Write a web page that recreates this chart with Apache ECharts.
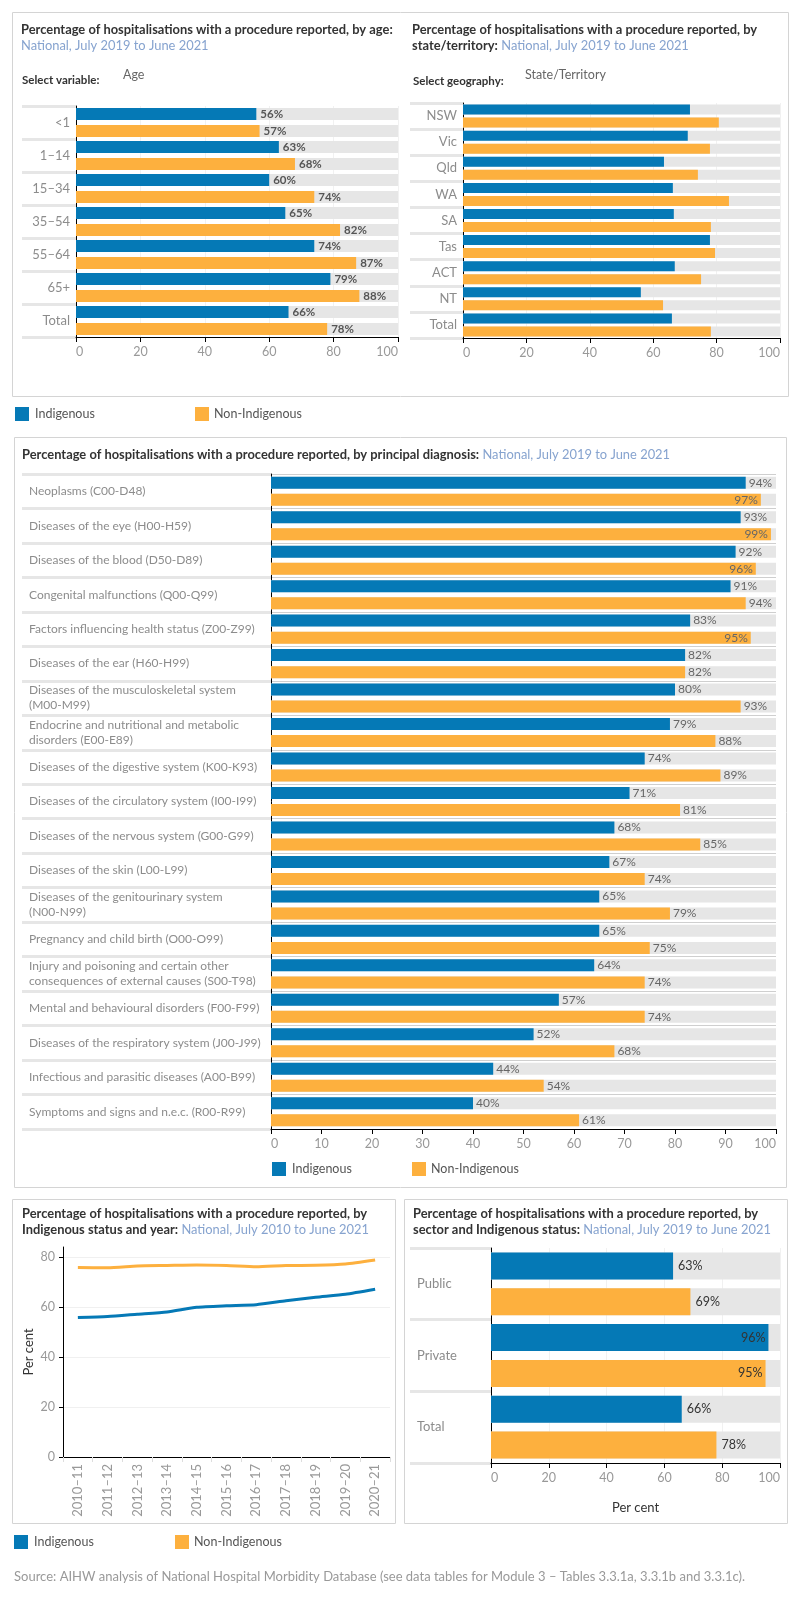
<!DOCTYPE html>
<html>
<head>
<meta charset="utf-8">
<script src="https://cdn.jsdelivr.net/npm/echarts@6/dist/echarts.min.js"></script>
<style>
  html, body { margin: 0; background: #fff; }
  #chart { width: 800px; height: 1600px; }
</style>
</head>
<body>
<div id="chart"></div>
<script>
// data
const ageCats = ['<1', '1–14', '15–34', '35–54', '55–64', '65+', 'Total'];
const ageInd = [56, 63, 60, 65, 74, 79, 66];
const ageNon = [57, 68, 74, 82, 87, 88, 78];

const stateCats = ['NSW', 'Vic', 'Qld', 'WA', 'SA', 'Tas', 'ACT', 'NT', 'Total'];
const stateInd = [71.6, 70.9, 63.4, 66.2, 66.5, 77.9, 66.8, 56.1, 65.9];
const stateNon = [80.7, 77.9, 74.1, 83.9, 78.2, 79.5, 75.1, 63.1, 78.2];

const diagCats = [
  'Neoplasms (C00-D48)',
  'Diseases of the eye (H00-H59)',
  'Diseases of the blood (D50-D89)',
  'Congenital malfunctions (Q00-Q99)',
  'Factors influencing health status (Z00-Z99)',
  'Diseases of the ear (H60-H99)',
  'Diseases of the musculoskeletal system\n(M00-M99)',
  'Endocrine and nutritional and metabolic\ndisorders (E00-E89)',
  'Diseases of the digestive system (K00-K93)',
  'Diseases of the circulatory system (I00-I99)',
  'Diseases of the nervous system (G00-G99)',
  'Diseases of the skin (L00-L99)',
  'Diseases of the genitourinary system\n(N00-N99)',
  'Pregnancy and child birth (O00-O99)',
  'Injury and poisoning and certain other\nconsequences of external causes (S00-T98)',
  'Mental and behavioural disorders (F00-F99)',
  'Diseases of the respiratory system (J00-J99)',
  'Infectious and parasitic diseases (A00-B99)',
  'Symptoms and signs and n.e.c. (R00-R99)'
];
const diagInd = [94, 93, 92, 91, 83, 82, 80, 79, 74, 71, 68, 67, 65, 65, 64, 57, 52, 44, 40];
const diagNon = [97, 99, 96, 94, 95, 82, 93, 88, 89, 81, 85, 74, 79, 75, 74, 74, 68, 54, 61];

const years = ['2010–11', '2011–12', '2012–13', '2013–14', '2014–15', '2015–16',
  '2016–17', '2017–18', '2018–19', '2019–20', '2020–21'];
const trendInd = [55.8, 56.2, 57.1, 58.0, 59.9, 60.5, 60.9, 62.5, 63.9, 65.1, 67.1];
const trendNon = [75.8, 75.7, 76.4, 76.6, 76.8, 76.6, 76.1, 76.6, 76.7, 77.2, 78.8];

const sectorCats = ['Public', 'Private', 'Total'];
const sectorInd = [63, 96, 66];
const sectorNon = [69, 95, 78];

const BLUE = '#0579b6';
const ORANGE = '#fdb03e';
const BG = '#e6e6e6';
const FONT = 'Lato, sans-serif';

const chart = echarts.init(document.getElementById('chart'));

// grids: plot + label-separator area
const grids = [
  { left: 76, top: 106, width: 322, height: 231 },   // 0 age
  { left: 22, top: 106, width: 54, height: 231 },    // 1 age sep
  { left: 463, top: 103, width: 317, height: 235 },  // 2 state
  { left: 410, top: 103, width: 53, height: 235 },   // 3 state sep
  { left: 271, top: 474, width: 505, height: 655 },  // 4 diag
  { left: 22, top: 474, width: 249, height: 655 },   // 5 diag sep
  { left: 63, top: 1247, width: 327, height: 210 },  // 6 trend
  { left: 491, top: 1248, width: 289, height: 215 }, // 7 sector
  { left: 410, top: 1248, width: 81, height: 215 }   // 8 sector sep
];

const valueAxis = (gridIndex, interval, extra) => Object.assign({
  type: 'value', gridIndex, min: 0, max: 100, interval,
  axisLine: { show: true, lineStyle: { color: '#000', width: 1 } },
  axisTick: { show: true, length: 5, lineStyle: { color: '#000' } },
  axisLabel: { color: '#999', fontSize: 12.5, margin: 8, fontFamily: FONT,
    alignMinLabel: 'left', alignMaxLabel: 'right' },
  splitLine: { show: true, lineStyle: { color: '#f1f1f1' } }
}, extra || {});

const hiddenX = (gridIndex) => ({ type: 'value', gridIndex, min: 0, max: 1, show: false });

const catAxis = (gridIndex, data, label, splitLine) => ({
  type: 'category', gridIndex, data, inverse: true,
  axisLine: { show: true, lineStyle: { color: '#000', width: 1 } },
  axisTick: { show: false },
  axisLabel: label,
  splitLine: splitLine || { show: false }
});

const sepAxis = (gridIndex, data) => ({
  type: 'category', gridIndex, data, inverse: true,
  axisLine: { show: false }, axisTick: { show: false }, axisLabel: { show: false },
  splitLine: { show: true, lineStyle: { color: BG, width: 3 } }
});

const xAxis = [
  valueAxis(0, 20),
  hiddenX(1),
  valueAxis(2, 20),
  hiddenX(3),
  valueAxis(4, 10, { splitLine: { show: false } }),
  hiddenX(5),
  {
    type: 'category', gridIndex: 6, data: years, boundaryGap: true,
    axisLine: { lineStyle: { color: '#000' } },
    axisTick: { show: true, length: 5, lineStyle: { color: '#ddd' } },
    axisLabel: { rotate: 90, color: '#999', fontSize: 13, margin: 7, fontFamily: FONT }
  },
  valueAxis(7, 20, {
    name: 'Per cent', nameLocation: 'middle', nameGap: 38,
    nameTextStyle: { color: '#333', fontSize: 13, fontFamily: FONT }
  }),
  hiddenX(8)
];

const rightLabel = { color: '#8c8c8c', fontSize: 13, margin: 6, fontFamily: FONT };
const yAxis = [
  catAxis(0, ageCats, rightLabel),
  sepAxis(1, ageCats),
  catAxis(2, stateCats, rightLabel),
  sepAxis(3, stateCats),
  catAxis(4, diagCats,
    { color: '#8c8c8c', fontSize: 12, align: 'left', margin: 242, lineHeight: 15, fontFamily: FONT },
    { show: true, lineStyle: { color: '#cfcfcf', width: 1 } }),
  sepAxis(5, diagCats),
  {
    type: 'value', gridIndex: 6, min: 0, max: 84, interval: 20,
    name: 'Per cent', nameLocation: 'middle', nameGap: 28,
    nameTextStyle: { color: '#333', fontSize: 13, fontFamily: FONT },
    axisLine: { show: true, lineStyle: { color: '#000' } },
    axisTick: { show: true, length: 4, lineStyle: { color: '#000' } },
    axisLabel: { color: '#999', fontSize: 12.5, showMaxLabel: false, fontFamily: FONT },
    splitLine: { show: true, showMaxLine: false, lineStyle: { color: '#f0f0f0' } }
  },
  catAxis(7, sectorCats, { color: '#8c8c8c', fontSize: 13, align: 'left', margin: 74, fontFamily: FONT }),
  sepAxis(8, sectorCats)
];

const pct = (p) => Math.round(p.value) + '%';

function barPair(axisIndex, ind, non, barWidth, barGap, label) {
  const mk = (name, data, color) => ({
    name, type: 'bar', xAxisIndex: axisIndex, yAxisIndex: axisIndex,
    data, barWidth, barGap, color,
    showBackground: true, backgroundStyle: { color: BG },
    itemStyle: { color },
    label: label, emphasis: { disabled: true }
  });
  return [mk('Indigenous', ind, BLUE), mk('Non-Indigenous', non, ORANGE)];
}

// label inside the bar end when the bar nearly fills the axis
const withInside = (arr) => arr.map(v => v >= 95
  ? { value: v, label: { position: 'insideRight', distance: 3 } }
  : v);

const series = [
  ...barPair(0, ageInd, ageNon, 12, '42%',
    { show: true, position: 'right', distance: 4, formatter: pct, color: '#555', fontSize: 11.5, fontWeight: 'bold', fontFamily: FONT }),
  ...barPair(2, stateInd, stateNon, 10, '30%', { show: false }),
  ...barPair(4, withInside(diagInd), withInside(diagNon), 12, '42%',
    { show: true, position: 'right', distance: 3, formatter: pct, color: '#666', fontSize: 12, fontFamily: FONT }),
  {
    name: 'Indigenous', type: 'line', xAxisIndex: 6, yAxisIndex: 6, data: trendInd,
    smooth: 0.2, showSymbol: false, lineStyle: { color: BLUE, width: 3 }, itemStyle: { color: BLUE }
  },
  {
    name: 'Non-Indigenous', type: 'line', xAxisIndex: 6, yAxisIndex: 6, data: trendNon,
    smooth: 0.2, showSymbol: false, lineStyle: { color: ORANGE, width: 3 }, itemStyle: { color: ORANGE }
  },
  ...barPair(7, withInside(sectorInd), withInside(sectorNon), 27, '33%',
    { show: true, position: 'right', distance: 5, formatter: pct, color: '#333', fontSize: 12.5, fontFamily: FONT })
];

// layout pieces outside the plots
const box = (x, y, w, h) => ({
  type: 'rect', silent: true,
  shape: { x: x + 0.5, y: y + 0.5, width: w, height: h },
  style: { fill: 'none', stroke: '#d4d4d4', lineWidth: 1 }
});
const txt = (x, y, text, style) => ({
  type: 'text', x, y, silent: true,
  style: Object.assign({ text, fill: '#555', fontSize: 12.5, fontFamily: FONT, verticalAlign: 'middle' }, style || {})
});
const swatch = (x, y, color) => ({
  type: 'rect', silent: true, shape: { x, y, width: 14, height: 14 }, style: { fill: color }
});
const legend = (x1, x2, y) => [
  swatch(x1, y, BLUE), txt(x1 + 20, y + 7, 'Indigenous'),
  swatch(x2, y, ORANGE), txt(x2 + 19, y + 7, 'Non-Indigenous')
];
const titleRich = {
  b: { fill: '#333', fontWeight: 'bold', fontSize: 12.9, fontFamily: FONT, lineHeight: 16 },
  s: { fill: '#86a3cf', fontSize: 12.9, fontFamily: FONT, lineHeight: 16 }
};
const title = (x, y, text) => ({
  type: 'text', x, y, silent: true,
  style: { text, rich: titleRich, verticalAlign: 'top', fontFamily: FONT }
});
const SUB = 'National, July 2019 to June 2021';

const graphic = [
  box(12, 12, 776, 384),
  box(14, 437, 772, 750),
  box(12, 1199, 383, 324),
  box(404, 1199, 383, 324),

  title(21, 22, '{b|Percentage of hospitalisations with a procedure reported, by age:}\n{s|' + SUB + '}'),
  title(412, 22, '{b|Percentage of hospitalisations with a procedure reported, by}\n{b|state/territory:}{s| ' + SUB + '}'),
  title(22, 447, '{b|Percentage of hospitalisations with a procedure reported, by principal diagnosis:}{s| ' + SUB + '}'),
  title(22, 1206, '{b|Percentage of hospitalisations with a procedure reported, by}\n{b|Indigenous status and year:}{s| National, July 2010 to June 2021}'),
  title(413, 1206, '{b|Percentage of hospitalisations with a procedure reported, by}\n{b|sector and Indigenous status:}{s| ' + SUB + '}'),

  txt(22, 80, 'Select variable:', { fill: '#333', fontWeight: 'bold', fontSize: 11.5 }),
  txt(123, 75, 'Age', { fill: '#666' }),
  txt(413, 81, 'Select geography:', { fill: '#333', fontWeight: 'bold', fontSize: 11.5 }),
  txt(525, 75, 'State/Territory', { fill: '#666' }),

  ...legend(15, 195, 407),
  ...legend(272, 412, 1162),
  ...legend(14, 175, 1535),

  txt(14, 1577, 'Source: AIHW analysis of National Hospital Morbidity Database (see data tables for Module 3 – Tables 3.3.1a, 3.3.1b and 3.3.1c).',
    { fill: '#999', fontSize: 13 })
];

chart.setOption({
  animation: false,
  textStyle: { fontFamily: FONT },
  grid: grids,
  xAxis,
  yAxis,
  series,
  graphic
});
</script>
</body>
</html>
